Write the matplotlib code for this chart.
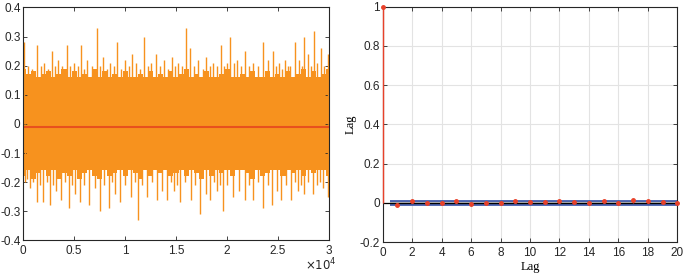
import numpy as np
import matplotlib
matplotlib.use('Agg')
from matplotlib import pyplot as plt

plt.rcParams['font.family'] = ['Liberation Sans', 'DejaVu Sans']
plt.rcParams['axes.unicode_minus'] = False
plt.rcParams['font.size'] = 8.5

# ---------------- left panel: residual series
band_x = np.arange(0, 30500, 500)
band_top = [0.19, 0.17, 0.18, 0.16, 0.17, 0.18, 0.16, 0.17, 0.19, 0.16, 0.18,
            0.16, 0.17, 0.16, 0.19, 0.16, 0.18, 0.16, 0.17, 0.16, 0.18,
            0.16, 0.16, 0.17, 0.16, 0.18, 0.16, 0.17, 0.16, 0.18, 0.16,
            0.17, 0.19, 0.16, 0.17, 0.16, 0.18, 0.16, 0.16, 0.17, 0.19,
            0.16, 0.16, 0.17, 0.16, 0.18, 0.16, 0.16, 0.18, 0.16, 0.17,
            0.16, 0.18, 0.16, 0.17, 0.19, 0.16, 0.18, 0.16, 0.17, 0.19]
band_bot = [-0.18, -0.16, -0.19, -0.17, -0.16, -0.18, -0.16, -0.19, -0.17, -0.18, -0.16,
            -0.19, -0.17, -0.16, -0.18, -0.19, -0.16, -0.18, -0.17, -0.16, -0.18,
            -0.16, -0.17, -0.19, -0.16, -0.18, -0.16, -0.17, -0.16, -0.18, -0.17,
            -0.16, -0.18, -0.16, -0.17, -0.19, -0.16, -0.18, -0.16, -0.17, -0.16,
            -0.18, -0.16, -0.16, -0.17, -0.19, -0.16, -0.18, -0.17, -0.16, -0.16,
            -0.18, -0.16, -0.17, -0.16, -0.18, -0.16, -0.17, -0.16, -0.16, -0.18]

up_x = [70, 500, 900, 1300, 1700, 2000, 2400, 2800, 3100, 3400, 3800, 4300, 4600,
        5000, 5400, 5700, 6000, 6300, 6700, 7200, 7500, 7800, 8200, 8500, 8900,
        9200, 9600, 10000, 10400, 10700, 11100, 11500, 11900, 12200, 12500, 13000,
        13400, 13800, 14200, 14600, 14900, 15200, 15600, 16000, 16400, 16800,
        17200, 17600, 17900, 18300, 18600, 19000, 19400, 19700, 20000, 20300,
        20700, 21000, 21400, 21800, 22200, 22600, 23000, 23500, 24000, 24500,
        24800, 25100, 25400, 25700, 26000, 26200, 26700, 27100, 27400, 27600,
        28000, 28300, 28500, 28800, 29200, 29500, 29900]
up_y = [0.28, 0.20, 0.19, 0.27, 0.20, 0.21, 0.19, 0.25, 0.20, 0.22, 0.20, 0.27, 0.20,
        0.21, 0.20, 0.27, 0.19, 0.22, 0.20, 0.33, 0.20, 0.23, 0.19, 0.21, 0.20,
        0.28, 0.19, 0.22, 0.20, 0.24, 0.21, 0.19, 0.30, 0.20, 0.21, 0.24,
        0.20, 0.22, 0.19, 0.23, 0.20, 0.21, 0.20, 0.33, 0.26, 0.20,
        0.22, 0.19, 0.23, 0.20, 0.21, 0.20, 0.27, 0.20, 0.21, 0.30,
        0.21, 0.22, 0.20, 0.25, 0.20, 0.21, 0.20, 0.28, 0.22, 0.25,
        0.20, 0.21, 0.19, 0.22, 0.20, 0.20, 0.28, 0.22, 0.20, 0.30,
        0.24, 0.20, 0.32, 0.21, 0.26, 0.20, 0.24]
lo_x = [130, 400, 700, 1000, 1300, 1600, 1900, 2300, 2600, 2900, 3200, 3700, 4100,
        4500, 4800, 5100, 5600, 6000, 6500, 7000, 7500, 7900, 8400, 8700,
        9000, 9500, 10000, 10600, 11000, 11300, 11700, 12100, 12600, 13100, 13600,
        14100, 14500, 14800, 15100, 15400, 15900, 16500, 16900, 17400, 17900, 18300,
        18700, 19000, 19300, 19600, 20000, 20600, 21200, 21800, 22200, 22600, 23000,
        23500, 24000, 24400, 24900, 25300, 25800, 26300, 26700, 27000, 27300, 27600,
        28000, 28400, 28800, 29100, 29400, 29900]
lo_y = [-0.20, -0.19, -0.22, -0.20, -0.27, -0.21, -0.27, -0.20, -0.28, -0.21, -0.23,
        -0.26, -0.20, -0.29, -0.21, -0.24, -0.27, -0.21, -0.28, -0.22, -0.30, -0.21,
        -0.29, -0.20, -0.24, -0.27, -0.21, -0.25, -0.20, -0.33, -0.21, -0.25, -0.20,
        -0.26, -0.23, -0.26, -0.20, -0.23, -0.21, -0.27, -0.20, -0.26, -0.21, -0.31,
        -0.24, -0.26, -0.20, -0.23, -0.21, -0.30, -0.21, -0.25, -0.23, -0.26, -0.21,
        -0.26, -0.20, -0.29, -0.21, -0.28, -0.23, -0.26, -0.21, -0.26, -0.20, -0.23,
        -0.21, -0.24, -0.20, -0.24, -0.21, -0.20, -0.22, -0.25]
resid_mean = -0.012

# ---------------- right panel: sample autocorrelation
lags = np.arange(0, 21)
acf = [1.0, -0.010, 0.010, -0.002, 0.002, 0.008, -0.005, 0.002, 0.000, 0.008, 0.006,
       0.006, 0.010, 0.006, 0.002, 0.012, 0.000, 0.015, 0.008, 0.003, 0.002]
bound = 0.0116

orange = '#F7921E'
red = '#E8412A'
blue = '#3550A8'

fig = plt.figure(figsize=(6.85, 2.75), dpi=100)
ax1 = fig.add_axes([0.034, 0.126, 0.446, 0.847])
ax2 = fig.add_axes([0.5587, 0.119, 0.4301, 0.857])

ax1.fill_between(band_x, band_bot, band_top, step='mid', color=orange, lw=0)
ax1.vlines(up_x, 0, up_y, color=orange, lw=1.0)
ax1.vlines(lo_x, lo_y, 0, color=orange, lw=1.0)
ax1.axhline(resid_mean, color='#E8501E', lw=1.5)
ax1.set_xlim(0, 30000)
ax1.set_ylim(-0.4, 0.4)
ax1.set_yticks(np.arange(-0.4, 0.41, 0.1))
ax1.set_xticks(np.arange(0, 30001, 5000))
ax1.xaxis.set_major_formatter(matplotlib.ticker.FuncFormatter(lambda v, p: f'{v / 1e4:g}'))
ax1.yaxis.set_major_formatter(matplotlib.ticker.FuncFormatter(lambda v, p: '0' if abs(v) < 1e-9 else f'{v:.1f}'))
fig.text(0.468, 0.005, r'$\times10^{4}$', ha='center', va='bottom', fontsize=8.5, color='#262626')

ax2.grid(True, color='#E3E3E3', lw=0.8)
ax2.set_axisbelow(True)
ax2.fill_between([0.5, 20], -bound, bound, color='#BDBDBD', lw=0)
ax2.hlines([bound, -bound], 0.5, 20, color=blue, lw=1.2)
ax2.axhline(0, color='black', lw=0.9)
ax2.vlines(lags, 0, acf, color=red, lw=1.0, zorder=5, clip_on=False)
ax2.plot(lags, acf, 'o', color=red, ms=2.5, zorder=6, clip_on=False)
ax2.set_xlim(0, 20)
ax2.set_ylim(-0.2, 1)
ax2.set_xticks(np.arange(0, 21, 2))
ax2.set_yticks(np.arange(-0.2, 1.01, 0.2))
ax2.yaxis.set_major_formatter(matplotlib.ticker.FuncFormatter(lambda v, p: '0' if abs(v) < 1e-9 else ('1' if abs(v - 1) < 1e-9 else f'{v:.1f}')))
ax2.set_xlabel('Lag', family='Liberation Serif', fontsize=9, labelpad=1)
ax2.set_ylabel('Lag', family='Liberation Serif', fontsize=9, labelpad=2)

for ax in (ax1, ax2):
    ax.tick_params(direction='in', top=True, right=True, length=3, width=0.6, pad=2, colors='#262626')
    ax.tick_params(axis='x', pad=3.5)
    for s in ax.spines.values():
        s.set_color('#262626')
        s.set_linewidth(0.8)

fig.savefig('out.png', dpi=100)
